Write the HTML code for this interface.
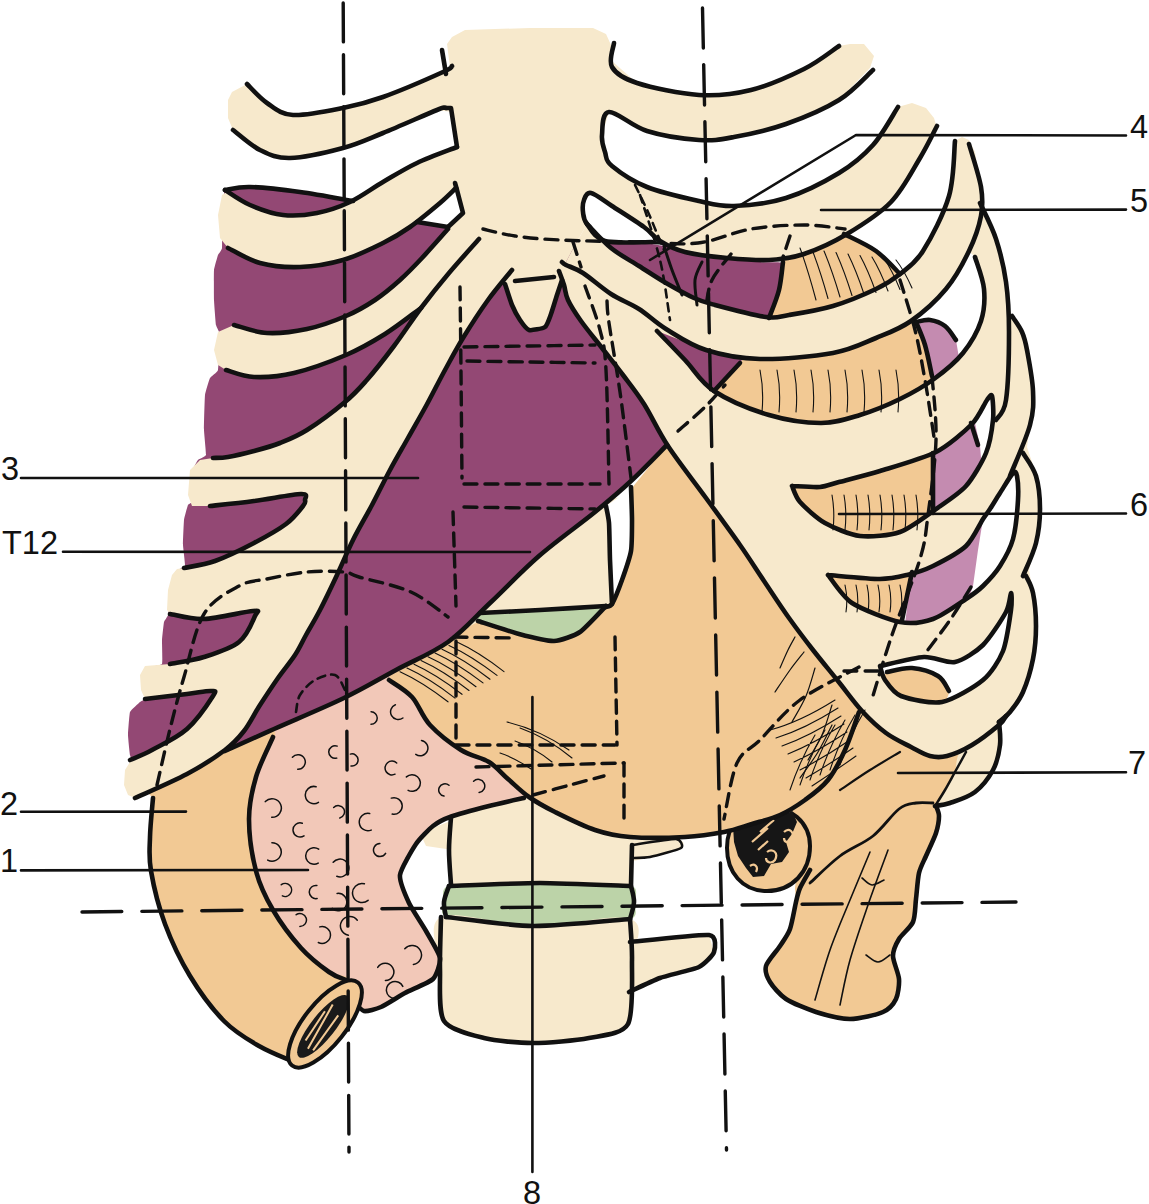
<!DOCTYPE html>
<html><head><meta charset="utf-8"><style>
html,body{margin:0;padding:0;background:#fff;width:1149px;height:1204px;overflow:hidden}
svg{display:block}
text{font-family:"Liberation Sans",sans-serif;fill:#111}
</style></head><body>
<svg width="1149" height="1204" viewBox="0 0 1149 1204">
<rect width="1149" height="1204" fill="#fff"/>
<path d="M450.0 817.0 L489.0 806.0 L524.0 798.0 L560.0 805.0 L640.0 812.0 L633.0 845.0 L631.0 885.0 L451.0 885.0 L449.0 850.0Z" fill="#f7e9cc" />
<path d="M628.0 842.0 C636.0 838.5 667.2 838.0 676.0 839.0 C684.8 840.0 685.3 845.0 681.0 848.0 C676.7 851.0 658.8 855.0 650.0 857.0 C641.2 859.0 631.7 862.5 628.0 860.0 C624.3 857.5 620.0 845.5 628.0 842.0Z" fill="#f7e9cc" />
<path d="M449.0 886.0 C458.6 884.1 521.8 883.0 540.0 883.0 C558.2 883.0 621.6 884.1 631.0 886.0 C640.4 887.9 634.1 898.7 634.0 902.0 C633.9 905.3 640.1 916.6 630.0 919.0 C619.9 921.4 551.3 926.2 533.0 926.0 C514.7 925.8 455.9 919.4 447.0 917.0 C438.1 914.6 443.8 905.1 444.0 902.0 C444.2 898.9 439.4 887.9 449.0 886.0Z" fill="#bcd3a8" />
<path d="M420.0 833.0 L453.0 820.0 L453.0 850.0 L426.0 846.0Z" fill="#f7e9cc" />
<path d="M441.0 917.0 C456.5 909.7 501.5 925.7 533.0 926.0 C564.5 926.3 613.2 913.3 630.0 919.0 C646.8 924.7 634.3 942.5 634.0 960.0 C633.7 977.5 635.5 1011.0 628.0 1024.0 C620.5 1037.0 604.8 1034.8 589.0 1038.0 C573.2 1041.2 550.5 1043.0 533.0 1043.0 C515.5 1043.0 498.8 1041.7 484.0 1038.0 C469.2 1034.3 451.3 1032.3 444.0 1021.0 C436.7 1009.7 440.5 987.3 440.0 970.0 C439.5 952.7 425.5 924.3 441.0 917.0Z" fill="#f7e9cc" />
<path d="M630.0 942.0 L709.0 935.0 L714.0 952.0 L699.0 967.0 L660.0 978.0 L629.0 992.0Z" fill="#f7e9cc" />
<path d="M262.0 738.0 L274.0 722.0 L344.0 690.0 L396.0 662.0 L410.0 670.0 L425.0 690.0 L445.0 712.0 L470.0 735.0 L500.0 758.0 L528.0 782.0 L530.0 794.0 L524.0 800.0 L489.0 806.0 L450.0 817.0 L433.0 826.0 L416.0 844.0 L400.0 875.0 L409.0 903.0 L426.0 931.0 L440.0 958.0 L433.0 979.0 L405.0 993.0 L381.0 1007.0 L364.0 1011.0 L350.0 995.0 L340.0 979.0 L320.0 968.0 L301.0 948.0 L273.0 910.0 L256.0 871.0 L249.0 819.0 L256.0 777.0Z" fill="#f2c8b8" />
<path d="M150.0 792.0 C153.4 789.0 179.1 775.2 187.0 770.0 C194.9 764.8 220.2 743.8 229.0 740.0 C237.8 736.2 272.3 728.3 275.0 732.0 C277.7 735.7 258.6 768.3 256.0 777.0 C253.4 785.7 249.0 809.6 249.0 819.0 C249.0 828.4 253.6 861.9 256.0 871.0 C258.4 880.1 268.5 902.3 273.0 910.0 C277.5 917.7 295.4 941.8 301.0 948.0 C306.6 954.2 324.1 968.8 329.0 972.0 C333.9 975.2 349.9 975.2 350.0 980.0 C350.1 984.8 335.0 1011.8 330.0 1020.0 C325.0 1028.2 307.1 1059.4 300.0 1062.0 C292.9 1064.6 266.6 1050.1 259.0 1046.0 C251.4 1041.9 230.9 1028.0 224.0 1021.0 C217.1 1014.0 195.9 985.7 190.0 976.0 C184.1 966.3 168.9 934.5 165.0 924.0 C161.1 913.5 152.5 879.7 151.0 871.0 C149.5 862.3 149.8 844.1 150.0 837.0 C150.2 829.9 153.0 804.5 153.0 800.0 C153.0 795.5 146.6 795.0 150.0 792.0Z" fill="#f2c994" />
<path d="M835.0 675.0 C840.6 672.6 866.4 708.2 876.0 716.0 C885.6 723.8 922.0 749.3 931.0 753.0 C940.0 756.7 963.1 751.1 966.0 753.0 C968.9 754.9 961.8 768.1 960.0 772.0 C958.2 775.9 950.4 788.6 948.0 792.0 C945.6 795.4 936.9 803.6 936.0 806.0 C935.1 808.4 939.0 813.3 939.0 816.0 C939.0 818.7 937.3 829.0 936.0 833.0 C934.7 837.0 927.7 852.0 926.0 856.0 C924.3 860.0 920.0 868.7 919.0 873.0 C918.0 877.3 916.6 894.1 916.0 899.0 C915.4 903.9 914.7 918.0 913.0 922.0 C911.3 926.0 901.0 935.6 899.0 939.0 C897.0 942.4 893.0 952.0 893.0 956.0 C893.0 960.0 898.7 974.7 899.0 979.0 C899.3 983.3 897.6 995.7 896.0 999.0 C894.4 1002.3 887.6 1010.0 883.0 1012.0 C878.4 1014.0 856.7 1019.0 850.0 1019.0 C843.3 1019.0 822.4 1014.0 816.0 1012.0 C809.6 1010.0 790.6 1002.0 786.0 999.0 C781.4 996.0 772.0 985.3 770.0 982.0 C768.0 978.7 765.0 969.6 766.0 966.0 C767.0 962.4 777.6 949.7 780.0 946.0 C782.4 942.3 788.4 933.4 790.0 929.0 C791.6 924.6 795.5 906.1 796.0 902.0 C796.5 897.9 794.8 891.2 795.0 888.0 C795.2 884.8 797.5 874.8 798.0 870.0 C798.5 865.2 800.3 845.4 800.0 840.0 C799.7 834.6 796.7 819.4 795.0 816.0 C793.3 812.6 786.5 807.0 783.0 806.0 C779.5 805.0 763.8 805.4 760.0 806.0 C756.2 806.6 742.0 814.6 745.0 812.0 C748.0 809.4 782.5 787.2 790.0 780.0 C797.5 772.8 815.5 750.5 820.0 740.0 C824.5 729.5 829.4 677.4 835.0 675.0Z" fill="#f2c994" />
<path d="M766 806 C790 806 810 822 810 846 C810 872 792 891 767 891 C742 891 727 872 727 848 C727 824 742 806 766 806Z" fill="#f2c994" stroke="#111" stroke-width="4"/>
<path d="M733 826 L745 814 L770 808 L792 811 L797 822 L792 834 L786 842 L789 852 L782 862 L771 864 L764 876 L753 877 L746 868 L738 856 L734 842Z" fill="#161616"/>
<path d="M784 832 c5 -5 11 0 8 7 c-2 5 -8 4 -8 -1 M767 852 c5 -4 12 0 8 8 c-3 4 -9 3 -9 -2 M750 866 c4 -3 9 0 6 6 M760 832 l14 -12 M752 842 l16 -14 M758 850 l10 -9" fill="none" stroke="#f2c994" stroke-width="2.2"/>
<path d="M470.0 625.0 L540.0 552.0 L600.0 500.0 L640.0 495.0 L640.0 650.0 L470.0 650.0Z" fill="#f7e9cc" />
<path d="M478.0 613.0 C484.0 611.8 527.2 610.8 540.0 610.0 C552.8 609.2 600.0 603.8 606.0 605.0 C612.0 606.2 602.6 619.1 600.0 622.0 C597.4 624.9 584.6 632.0 580.0 634.0 C575.4 636.0 560.1 641.9 554.0 642.0 C547.9 642.1 526.4 637.0 519.0 635.0 C511.6 633.0 484.1 624.2 480.0 622.0 C475.9 619.8 472.0 614.2 478.0 613.0Z" fill="#bcd3a8" />
<path d="M783.0 262.0 L800.0 245.0 L820.0 238.0 L844.0 234.0 L876.0 251.0 L900.0 274.0 L912.0 300.0 L917.0 324.0 L928.0 350.0 L932.0 376.0 L934.0 420.0 L935.0 452.0 L935.0 510.0 L915.0 565.0 L903.0 620.0 L890.0 660.0 L880.0 700.0 L860.0 716.0 L840.0 766.0 L810.0 800.0 L790.0 812.0 L750.0 824.0 L724.0 832.0 L685.0 837.0 L630.0 837.0 L595.0 830.0 L555.0 812.0 L529.0 797.0 L508.0 779.0 L489.0 762.0 L461.0 750.0 L430.0 725.0 L412.0 697.0 L389.0 680.0 L392.0 668.0 L420.0 652.0 L448.0 636.0 L470.0 626.0 L480.0 621.0 L519.0 634.0 L554.0 641.0 L580.0 632.0 L606.0 606.0 L612.0 604.0 L622.0 580.0 L631.0 551.0 L632.0 520.0 L631.0 489.0 L667.0 445.0 L690.0 420.0 L714.0 391.0 L740.0 363.0 L755.0 340.0 L769.0 318.0 L779.0 290.0Z" fill="#f2c994" />
<path d="M916.0 322.0 L930.0 320.0 L945.0 326.0 L956.0 340.0 L962.0 376.0 L970.0 400.0 L975.0 423.0 L980.0 446.0 L983.0 480.0 L983.0 519.0 L978.0 550.0 L973.0 586.0 L965.0 610.0 L950.0 622.0 L905.0 624.0 L908.0 600.0 L912.0 570.0 L935.0 510.0 L935.0 452.0 L932.0 376.0 L928.0 348.0Z" fill="#c48bb0" />
<path d="M225.0 190.0 C226.3 189.6 246.2 186.9 250.0 187.0 C253.8 187.1 294.9 191.3 300.0 192.0 C305.1 192.7 347.0 200.3 353.0 201.0 C359.0 201.7 414.9 205.1 420.0 205.0 C425.1 204.9 452.5 198.4 455.0 200.0 C457.5 201.6 466.8 233.8 470.0 236.0 C473.2 238.2 513.5 244.8 520.0 245.0 C526.5 245.2 595.4 240.2 600.0 240.0 C604.6 239.8 609.7 240.8 612.0 241.0 C614.3 241.2 641.6 242.4 646.0 243.0 C650.4 243.6 694.3 251.1 700.0 252.0 C705.7 252.9 755.9 261.4 760.0 262.0 C764.1 262.6 782.0 261.6 783.0 263.0 C784.0 264.4 779.7 287.2 779.0 290.0 C778.3 292.8 770.2 315.5 769.0 318.0 C767.8 320.5 756.5 337.8 755.0 340.0 C753.5 342.2 742.0 360.4 740.0 363.0 C738.0 365.6 716.5 388.1 714.0 391.0 C711.5 393.9 692.4 417.3 690.0 420.0 C687.6 422.7 670.0 441.9 667.0 445.0 C664.0 448.1 634.6 477.6 631.0 481.0 C627.4 484.4 599.6 508.2 595.0 512.0 C590.4 515.8 544.2 551.5 539.0 556.0 C533.8 560.5 494.6 598.7 490.0 603.0 C485.4 607.3 452.7 638.6 448.0 642.0 C443.3 645.4 401.2 667.2 396.0 670.0 C390.8 672.8 350.1 695.0 344.0 698.0 C337.9 701.0 279.9 726.4 274.0 729.0 C268.1 731.6 229.7 749.5 225.0 751.0 C220.3 752.5 184.5 759.4 180.0 760.0 C175.5 760.6 137.5 763.2 135.0 763.0 C132.5 762.8 130.3 756.4 130.0 755.0 C129.7 753.6 128.0 737.1 128.0 735.0 C128.0 732.9 129.4 713.6 130.0 712.0 C130.6 710.4 139.2 702.7 140.0 702.0 C140.8 701.3 145.6 699.7 146.0 698.0 C146.4 696.3 147.2 669.7 148.0 668.0 C148.8 666.3 161.3 665.4 162.0 664.0 C162.7 662.6 161.9 642.1 162.0 640.0 C162.1 637.9 163.7 623.2 164.0 622.0 C164.3 620.8 167.7 616.6 168.0 615.0 C168.3 613.4 169.6 592.2 170.0 590.0 C170.4 587.8 175.2 572.2 176.0 571.0 C176.8 569.8 184.7 567.3 185.0 566.0 C185.3 564.7 183.1 547.3 183.0 545.0 C182.9 542.7 183.8 522.0 184.0 520.0 C184.2 518.0 187.5 506.0 188.0 505.0 C188.5 504.0 193.8 501.8 194.0 500.0 C194.2 498.2 192.8 472.0 193.0 470.0 C193.2 468.0 197.3 460.8 198.0 460.0 C198.7 459.2 205.7 456.5 206.0 455.0 C206.3 453.5 204.1 433.0 204.0 430.0 C203.9 427.0 204.7 397.6 205.0 395.0 C205.3 392.4 209.3 379.2 210.0 378.0 C210.7 376.8 217.5 372.1 218.0 370.0 C218.5 367.9 220.1 337.2 220.0 335.0 C219.9 332.8 216.3 326.8 216.0 325.0 C215.7 323.2 214.1 302.8 214.0 300.0 C213.9 297.2 213.8 272.2 214.0 270.0 C214.2 267.8 217.6 256.1 218.0 255.0 C218.4 253.9 221.8 250.2 222.0 248.0 C222.2 245.8 221.9 212.7 222.0 210.0 C222.1 207.3 223.8 196.0 224.0 195.0 C224.2 194.0 223.7 190.4 225.0 190.0Z" fill="#934874" />
<path d="M606.0 506.0 L631.0 489.0 L632.0 520.0 L631.0 551.0 L622.0 580.0 L612.0 604.0 L609.0 560.0 L609.0 523.0Z" fill="#fff" />
<path d="M417.0 222.0 L455.0 190.0 L463.0 213.0 L448.0 227.0Z" fill="#fff" />
<path d="M583.0 205.0 C583.3 202.9 589.1 192.9 591.0 193.0 C592.9 193.1 608.5 203.7 612.0 206.0 C615.5 208.3 640.8 224.7 644.0 227.0 C647.2 229.3 659.5 240.0 660.0 241.0 C660.5 242.0 655.7 242.0 652.0 242.0 C648.3 242.0 609.3 242.2 605.0 241.0 C600.7 239.8 588.5 226.4 587.0 224.0 C585.5 221.6 582.7 207.1 583.0 205.0Z" fill="#fff" />
<path d="M447.0 44.0 L452.0 37.0 L465.0 30.0 L530.0 28.0 L593.0 28.0 L606.0 34.0 L611.0 45.0 L613.0 62.0 L637.0 83.0 L699.0 95.0 L751.0 90.0 L804.0 69.0 L839.0 46.0 L850.0 44.0 L864.0 44.0 L874.0 56.0 L870.0 68.0 L839.0 100.0 L786.0 124.0 L734.0 137.0 L699.0 140.0 L647.0 131.0 L609.0 112.0 L602.0 135.0 L605.0 152.0 L612.0 166.0 L647.0 187.0 L699.0 201.0 L734.0 206.0 L786.0 198.0 L839.0 173.0 L873.0 145.0 L898.0 107.0 L912.0 103.0 L926.0 108.0 L934.0 118.0 L937.0 128.0 L920.0 158.0 L891.0 202.0 L847.0 234.0 L804.0 254.0 L769.0 260.0 L727.0 258.0 L685.0 252.0 L660.0 241.0 L644.0 227.0 L612.0 206.0 L591.0 193.0 L584.0 200.0 L583.0 212.0 L587.0 224.0 L575.0 245.0 L566.0 262.0 L562.0 280.0 L557.0 295.0 L551.0 314.0 L545.0 327.0 L529.0 330.0 L520.0 320.0 L512.0 305.0 L505.0 284.0 L490.0 255.0 L480.0 240.0 L463.0 213.0 L455.0 190.0 L440.0 203.0 L410.0 227.0 L383.0 243.0 L343.0 260.0 L300.0 267.0 L260.0 263.0 L228.0 248.0 L220.0 238.0 L218.0 215.0 L222.0 195.0 L228.0 191.0 L250.0 205.0 L283.0 215.0 L317.0 213.0 L350.0 202.0 L383.0 182.0 L417.0 163.0 L457.0 147.0 L452.0 112.0 L437.0 110.0 L383.0 133.0 L343.0 148.0 L290.0 158.0 L260.0 150.0 L233.0 130.0 L228.0 118.0 L228.0 100.0 L232.0 92.0 L247.0 84.0 L267.0 103.0 L293.0 115.0 L343.0 108.0 L383.0 97.0 L443.0 72.0 L450.0 67.0Z" fill="#f7e9cc" />
<path d="M214.0 350.0 L218.0 332.0 L234.0 325.0 L267.0 333.0 L307.0 329.0 L346.0 316.0 L375.0 300.0 L400.0 280.0 L422.0 258.0 L448.0 229.0 L461.0 213.0 L466.0 212.0 L482.0 238.0 L490.0 250.0 L512.0 270.0 L488.0 300.0 L463.0 338.0 L445.0 370.0 L426.0 406.0 L408.0 438.0 L390.0 470.0 L372.0 505.0 L353.0 540.0 L337.0 575.0 L320.0 610.0 L306.0 635.0 L295.0 655.0 L278.0 678.0 L260.0 705.0 L244.0 731.0 L225.0 750.0 L187.0 774.0 L135.0 798.0 L128.0 795.0 L124.0 785.0 L125.0 770.0 L130.0 762.0 L152.0 750.0 L187.0 729.0 L213.0 696.0 L211.0 691.0 L187.0 694.0 L145.0 699.0 L141.0 690.0 L140.0 675.0 L145.0 666.0 L170.0 664.0 L204.0 657.0 L239.0 642.0 L255.0 616.0 L253.0 611.0 L204.0 619.0 L170.0 614.0 L167.0 610.0 L168.0 590.0 L172.0 575.0 L177.0 569.0 L184.0 568.0 L215.0 561.0 L254.0 543.0 L286.0 524.0 L303.0 506.0 L305.0 498.0 L301.0 494.0 L254.0 501.0 L210.0 506.0 L192.0 506.0 L188.0 495.0 L190.0 470.0 L200.0 460.0 L213.0 458.0 L228.0 457.0 L254.0 451.0 L280.0 443.0 L307.0 430.0 L345.0 402.0 L366.0 381.0 L394.0 346.0 L421.0 308.0 L425.0 305.0 L385.0 334.0 L346.0 355.0 L294.0 373.0 L254.0 377.0 L226.0 370.0 L218.0 365.0Z" fill="#f7e9cc" />
<path d="M566.0 262.0 L575.0 245.0 L587.0 224.0 L611.0 248.0 L639.0 266.0 L666.0 283.0 L694.0 298.0 L715.0 305.0 L766.0 317.0 L789.0 315.0 L833.0 306.0 L876.0 289.0 L900.0 274.0 L923.0 251.0 L949.0 196.0 L955.0 141.0 L962.0 137.0 L969.0 140.0 L975.0 152.0 L981.0 187.0 L981.0 205.0 L996.0 239.0 L1006.0 282.0 L1009.0 310.0 L1012.0 316.0 L1022.0 332.0 L1027.0 350.0 L1033.0 391.0 L1030.0 425.0 L1027.0 447.0 L1033.0 465.0 L1038.0 490.0 L1040.0 510.0 L1036.0 543.0 L1029.0 570.0 L1033.0 593.0 L1036.0 626.0 L1033.0 659.0 L1023.0 692.0 L1010.0 712.0 L999.0 722.0 L999.0 725.0 L972.0 745.0 L947.0 756.0 L930.0 756.0 L911.0 747.0 L886.0 733.0 L862.0 711.0 L838.0 681.0 L813.0 650.0 L789.0 618.0 L764.0 581.0 L740.0 545.0 L706.0 498.0 L668.0 446.0 L644.0 404.0 L623.0 375.0 L602.0 348.0 L581.0 321.0 L568.0 300.0 L564.0 285.0 L562.0 268.0Z M657.0 331.0 L706.0 350.0 L760.0 359.0 L833.0 353.0 L876.0 338.0 L911.0 321.0 L946.0 289.0 L969.0 251.0 L975.0 257.0 L984.0 289.0 L981.0 321.0 L963.0 353.0 L934.0 379.0 L900.0 399.0 L860.0 415.0 L821.0 423.0 L769.0 415.0 L714.0 391.0 L685.0 360.0Z M792.0 486.0 L820.0 487.0 L839.0 482.0 L880.0 471.0 L936.0 452.0 L972.0 424.0 L987.0 400.0 L992.0 396.0 L993.0 420.0 L986.0 453.0 L966.0 486.0 L936.0 509.0 L900.0 532.0 L860.0 536.0 L825.0 523.0 L800.0 502.0Z M828.0 575.0 L880.0 579.0 L907.0 575.0 L933.0 566.0 L966.0 546.0 L983.0 519.0 L990.0 509.0 L1000.0 493.0 L1013.0 473.0 L1017.0 476.0 L1018.0 500.0 L1013.0 539.0 L1000.0 566.0 L983.0 586.0 L966.0 599.0 L933.0 619.0 L900.0 622.0 L852.0 603.0Z M880.0 666.0 L924.0 657.0 L955.0 662.0 L983.0 645.0 L1006.0 612.0 L1011.0 593.0 L1011.0 610.0 L1003.0 651.0 L983.0 680.0 L942.0 702.0 L901.0 696.0 L885.0 680.0Z" fill="#f7e9cc" fill-rule="evenodd"/>
<path d="M880.0 666.0 L924.0 657.0 L955.0 662.0 L983.0 645.0 L1006.0 612.0 L1011.0 593.0 L1011.0 610.0 L1003.0 651.0 L983.0 680.0 L942.0 702.0 L901.0 696.0 L885.0 680.0Z" fill="#fff" />
<path d="M885.0 680.0 C883.6 677.6 884.3 673.2 887.0 672.0 C889.7 670.8 906.9 667.6 912.0 668.0 C917.1 668.4 934.3 673.7 938.0 676.0 C941.7 678.3 948.6 688.4 949.0 691.0 C949.4 693.6 946.8 701.5 942.0 702.0 C937.2 702.5 906.7 698.2 901.0 696.0 C895.3 693.8 886.4 682.4 885.0 680.0Z" fill="#f2c994" />
<path d="M960.0 752.0 C964.4 746.6 995.0 718.7 999.0 718.0 C1003.0 717.3 1000.6 739.8 1000.0 745.0 C999.4 750.2 995.5 765.3 993.0 770.0 C990.5 774.7 979.3 788.7 975.0 792.0 C970.7 795.3 954.0 801.6 950.0 803.0 C946.0 804.4 935.5 807.3 935.0 806.0 C934.5 804.7 943.0 793.4 945.0 790.0 C947.0 786.6 953.5 775.8 955.0 772.0 C956.5 768.2 955.6 757.4 960.0 752.0Z" fill="#f7e9cc" />
<path d="M247.0 84.0 C250.3 87.2 259.3 97.8 267.0 103.0 C274.7 108.2 280.3 114.2 293.0 115.0 C305.7 115.8 328.0 111.0 343.0 108.0 C358.0 105.0 366.3 103.0 383.0 97.0 C399.7 91.0 431.5 77.2 443.0 72.0 C454.5 66.8 450.5 67.0 452.0 66.0" fill="none" stroke="#111" stroke-width="4.6" stroke-linecap="round" stroke-linejoin="round" />
<path d="M442.0 50.0 C442.7 54.0 445.3 70.0 446.0 74.0" fill="none" stroke="#111" stroke-width="4.6" stroke-linecap="round" stroke-linejoin="round" />
<path d="M233.0 130.0 C237.5 133.3 250.5 145.3 260.0 150.0 C269.5 154.7 276.2 158.3 290.0 158.0 C303.8 157.7 327.5 152.2 343.0 148.0 C358.5 143.8 367.3 139.3 383.0 133.0 C398.7 126.7 426.5 114.2 437.0 110.0 C447.5 105.8 444.5 108.3 446.0 108.0" fill="none" stroke="#111" stroke-width="4.6" stroke-linecap="round" stroke-linejoin="round" />
<path d="M446.0 108.0 C446.0 108.0 451.0 108.0 451.0 108.0 C451.0 108.0 457.0 147.0 457.0 147.0" fill="none" stroke="#111" stroke-width="4.6" stroke-linecap="round" stroke-linejoin="round" />
<path d="M225.0 190.0 C229.2 189.5 237.5 186.7 250.0 187.0 C262.5 187.3 282.8 189.7 300.0 192.0 C317.2 194.3 344.2 199.5 353.0 201.0" fill="none" stroke="#111" stroke-width="4.6" stroke-linecap="round" stroke-linejoin="round" />
<path d="M225.0 190.0 C229.2 192.5 240.3 200.8 250.0 205.0 C259.7 209.2 271.8 213.7 283.0 215.0 C294.2 216.3 305.8 215.2 317.0 213.0 C328.2 210.8 339.0 207.2 350.0 202.0 C361.0 196.8 371.8 188.5 383.0 182.0 C394.2 175.5 404.7 168.8 417.0 163.0 C429.3 157.2 450.3 149.7 457.0 147.0" fill="none" stroke="#111" stroke-width="4.6" stroke-linecap="round" stroke-linejoin="round" />
<path d="M228.0 248.0 C233.3 250.5 248.0 259.8 260.0 263.0 C272.0 266.2 286.2 267.5 300.0 267.0 C313.8 266.5 329.2 264.0 343.0 260.0 C356.8 256.0 371.8 248.5 383.0 243.0 C394.2 237.5 400.5 233.7 410.0 227.0 C419.5 220.3 432.3 209.5 440.0 203.0 C447.7 196.5 453.3 190.5 456.0 188.0" fill="none" stroke="#111" stroke-width="4.6" stroke-linecap="round" stroke-linejoin="round" />
<path d="M455.0 183.0 C455.0 183.0 457.0 190.0 457.0 190.0 C457.0 190.0 463.0 213.0 463.0 213.0 C463.0 213.0 448.0 227.0 448.0 227.0 C448.0 227.0 417.0 222.0 417.0 222.0" fill="none" stroke="#111" stroke-width="4.6" stroke-linecap="round" stroke-linejoin="round" />
<path d="M234.0 325.0 C239.5 326.3 254.8 332.3 267.0 333.0 C279.2 333.7 293.8 331.8 307.0 329.0 C320.2 326.2 334.7 320.8 346.0 316.0 C357.3 311.2 366.0 306.0 375.0 300.0 C384.0 294.0 392.2 287.0 400.0 280.0 C407.8 273.0 414.0 266.5 422.0 258.0 C430.0 249.5 443.7 233.8 448.0 229.0" fill="none" stroke="#111" stroke-width="4.6" stroke-linecap="round" stroke-linejoin="round" />
<path d="M226.0 370.0 C230.7 371.2 242.7 376.5 254.0 377.0 C265.3 377.5 278.7 376.7 294.0 373.0 C309.3 369.3 330.8 361.5 346.0 355.0 C361.2 348.5 372.5 341.8 385.0 334.0 C397.5 326.2 415.0 312.3 421.0 308.0" fill="none" stroke="#111" stroke-width="4.6" stroke-linecap="round" stroke-linejoin="round" />
<path d="M479.0 239.0 C474.0 244.7 458.7 261.5 449.0 273.0 C439.3 284.5 430.2 295.8 421.0 308.0 C411.8 320.2 403.2 333.8 394.0 346.0 C384.8 358.2 374.2 371.7 366.0 381.0 C357.8 390.3 354.8 393.8 345.0 402.0 C335.2 410.2 317.8 423.2 307.0 430.0 C296.2 436.8 288.8 439.5 280.0 443.0 C271.2 446.5 262.7 448.7 254.0 451.0 C245.3 453.3 234.8 455.8 228.0 457.0 C221.2 458.2 215.5 457.8 213.0 458.0" fill="none" stroke="#111" stroke-width="4.6" stroke-linecap="round" stroke-linejoin="round" />
<path d="M210.0 506.0 C217.3 505.2 238.8 503.0 254.0 501.0 C269.2 499.0 292.5 494.2 301.0 494.0 C309.5 493.8 304.7 498.0 305.0 500.0 C305.3 502.0 306.2 502.0 303.0 506.0 C299.8 510.0 294.2 517.8 286.0 524.0 C277.8 530.2 265.8 536.8 254.0 543.0 C242.2 549.2 226.7 556.8 215.0 561.0 C203.3 565.2 189.2 566.8 184.0 568.0" fill="none" stroke="#111" stroke-width="4.6" stroke-linecap="round" stroke-linejoin="round" />
<path d="M170.0 614.0 C175.7 614.8 190.2 619.5 204.0 619.0 C217.8 618.5 244.5 611.5 253.0 611.0 C261.5 610.5 257.3 610.8 255.0 616.0 C252.7 621.2 247.5 635.2 239.0 642.0 C230.5 648.8 215.5 653.3 204.0 657.0 C192.5 660.7 175.7 662.8 170.0 664.0" fill="none" stroke="#111" stroke-width="4.6" stroke-linecap="round" stroke-linejoin="round" />
<path d="M145.0 699.0 C152.0 698.2 176.0 695.3 187.0 694.0 C198.0 692.7 206.7 690.7 211.0 691.0 C215.3 691.3 217.0 689.7 213.0 696.0 C209.0 702.3 197.2 720.0 187.0 729.0 C176.8 738.0 161.5 744.8 152.0 750.0 C142.5 755.2 133.7 758.3 130.0 760.0" fill="none" stroke="#111" stroke-width="4.6" stroke-linecap="round" stroke-linejoin="round" />
<path d="M512.0 270.0 C508.0 275.0 496.2 288.7 488.0 300.0 C479.8 311.3 470.2 326.3 463.0 338.0 C455.8 349.7 451.2 358.7 445.0 370.0 C438.8 381.3 432.2 394.7 426.0 406.0 C419.8 417.3 414.0 427.3 408.0 438.0 C402.0 448.7 396.0 458.8 390.0 470.0 C384.0 481.2 378.2 493.3 372.0 505.0 C365.8 516.7 358.8 528.3 353.0 540.0 C347.2 551.7 342.5 563.3 337.0 575.0 C331.5 586.7 325.2 600.0 320.0 610.0 C314.8 620.0 310.2 627.5 306.0 635.0 C301.8 642.5 299.7 647.8 295.0 655.0 C290.3 662.2 283.8 669.7 278.0 678.0 C272.2 686.3 265.7 696.2 260.0 705.0 C254.3 713.8 249.8 723.5 244.0 731.0 C238.2 738.5 234.5 742.8 225.0 750.0 C215.5 757.2 202.0 766.0 187.0 774.0 C172.0 782.0 143.7 794.0 135.0 798.0" fill="none" stroke="#111" stroke-width="4.6" stroke-linecap="round" stroke-linejoin="round" />
<path d="M225.0 751.0 C233.2 747.3 254.2 737.8 274.0 729.0 C293.8 720.2 323.7 707.8 344.0 698.0 C364.3 688.2 378.7 679.3 396.0 670.0 C413.3 660.7 432.3 653.2 448.0 642.0 C463.7 630.8 474.8 617.3 490.0 603.0 C505.2 588.7 521.5 571.2 539.0 556.0 C556.5 540.8 579.7 524.5 595.0 512.0 C610.3 499.5 619.0 492.2 631.0 481.0 C643.0 469.8 661.0 451.0 667.0 445.0" fill="none" stroke="#111" stroke-width="4.6" stroke-linecap="round" stroke-linejoin="round" />
<path d="M505.0 284.0 C505.7 286.1 510.5 301.4 512.0 305.0 C513.5 308.6 518.3 317.5 520.0 320.0 C521.7 322.5 526.5 329.3 529.0 330.0 C531.5 330.7 542.8 328.6 545.0 327.0 C547.2 325.4 549.8 317.2 551.0 314.0 C552.2 310.8 555.9 298.4 557.0 295.0 C558.1 291.6 561.5 281.5 562.0 280.0" fill="none" stroke="#111" stroke-width="4.6" stroke-linecap="round" stroke-linejoin="round" />
<path d="M515.0 281.0 C521.5 280.3 547.5 277.7 554.0 277.0" fill="none" stroke="#111" stroke-width="4.6" stroke-linecap="round" stroke-linejoin="round" />
<path d="M559.0 271.0 C559.8 273.3 562.5 280.2 564.0 285.0 C565.5 289.8 565.2 294.0 568.0 300.0 C570.8 306.0 575.3 313.0 581.0 321.0 C586.7 329.0 595.0 339.0 602.0 348.0 C609.0 357.0 616.0 365.7 623.0 375.0 C630.0 384.3 636.5 392.2 644.0 404.0 C651.5 415.8 657.7 430.3 668.0 446.0 C678.3 461.7 694.0 481.5 706.0 498.0 C718.0 514.5 730.3 531.2 740.0 545.0 C749.7 558.8 755.8 568.8 764.0 581.0 C772.2 593.2 780.8 606.5 789.0 618.0 C797.2 629.5 804.8 639.5 813.0 650.0 C821.2 660.5 829.8 670.8 838.0 681.0 C846.2 691.2 854.0 702.3 862.0 711.0 C870.0 719.7 877.8 727.0 886.0 733.0 C894.2 739.0 903.7 743.2 911.0 747.0 C918.3 750.8 924.0 754.5 930.0 756.0 C936.0 757.5 940.0 757.8 947.0 756.0 C954.0 754.2 963.3 750.2 972.0 745.0 C980.7 739.8 993.3 729.8 999.0 725.0 C1004.7 720.2 1004.8 717.5 1006.0 716.0" fill="none" stroke="#111" stroke-width="4.6" stroke-linecap="round" stroke-linejoin="round" />
<path d="M614.0 43.0 C613.7 47.0 608.2 60.3 612.0 67.0 C615.8 73.7 622.5 78.3 637.0 83.0 C651.5 87.7 680.0 93.8 699.0 95.0 C718.0 96.2 733.5 94.3 751.0 90.0 C768.5 85.7 789.3 76.3 804.0 69.0 C818.7 61.7 833.2 49.8 839.0 46.0" fill="none" stroke="#111" stroke-width="4.6" stroke-linecap="round" stroke-linejoin="round" />
<path d="M873.0 70.0 C867.3 75.0 853.5 91.0 839.0 100.0 C824.5 109.0 803.5 117.8 786.0 124.0 C768.5 130.2 748.5 134.3 734.0 137.0 C719.5 139.7 713.5 141.0 699.0 140.0 C684.5 139.0 662.0 135.7 647.0 131.0 C632.0 126.3 616.5 111.3 609.0 112.0 C601.5 112.7 602.7 128.3 602.0 135.0 C601.3 141.7 603.3 146.8 605.0 152.0 C606.7 157.2 605.0 160.2 612.0 166.0 C619.0 171.8 632.5 181.2 647.0 187.0 C661.5 192.8 684.5 197.8 699.0 201.0 C713.5 204.2 719.5 206.5 734.0 206.0 C748.5 205.5 768.5 203.5 786.0 198.0 C803.5 192.5 824.5 181.8 839.0 173.0 C853.5 164.2 863.2 156.0 873.0 145.0 C882.8 134.0 893.8 113.3 898.0 107.0" fill="none" stroke="#111" stroke-width="4.6" stroke-linecap="round" stroke-linejoin="round" />
<path d="M937.0 126.0 C934.2 131.3 927.7 145.3 920.0 158.0 C912.3 170.7 903.2 189.3 891.0 202.0 C878.8 214.7 861.5 225.3 847.0 234.0 C832.5 242.7 817.0 249.7 804.0 254.0 C791.0 258.3 781.8 259.3 769.0 260.0 C756.2 260.7 741.0 259.3 727.0 258.0 C713.0 256.7 696.2 254.8 685.0 252.0 C673.8 249.2 666.8 245.2 660.0 241.0 C653.2 236.8 652.0 232.8 644.0 227.0 C636.0 221.2 620.8 211.7 612.0 206.0 C603.2 200.3 595.7 194.0 591.0 193.0 C586.3 192.0 585.3 196.8 584.0 200.0 C582.7 203.2 582.5 208.0 583.0 212.0 C583.5 216.0 583.3 219.2 587.0 224.0 C590.7 228.8 594.2 238.0 605.0 241.0 C615.8 244.0 644.2 241.8 652.0 242.0" fill="none" stroke="#111" stroke-width="4.6" stroke-linecap="round" stroke-linejoin="round" />
<path d="M587.0 224.0 C591.0 228.0 602.3 241.0 611.0 248.0 C619.7 255.0 629.8 260.2 639.0 266.0 C648.2 271.8 656.8 277.7 666.0 283.0 C675.2 288.3 685.8 294.3 694.0 298.0 C702.2 301.7 703.0 301.8 715.0 305.0 C727.0 308.2 753.7 315.3 766.0 317.0 C778.3 318.7 777.8 316.8 789.0 315.0 C800.2 313.2 818.5 310.3 833.0 306.0 C847.5 301.7 864.8 294.3 876.0 289.0 C887.2 283.7 892.2 280.3 900.0 274.0 C907.8 267.7 914.8 264.0 923.0 251.0 C931.2 238.0 943.7 214.3 949.0 196.0 C954.3 177.7 954.0 150.2 955.0 141.0" fill="none" stroke="#111" stroke-width="4.6" stroke-linecap="round" stroke-linejoin="round" />
<path d="M562.0 262.0 C562.7 262.5 562.5 263.2 566.0 265.0 C569.5 266.8 575.5 268.2 583.0 273.0 C590.5 277.8 601.7 288.0 611.0 294.0 C620.3 300.0 629.8 303.2 639.0 309.0 C648.2 314.8 654.8 322.2 666.0 329.0 C677.2 335.8 690.3 345.0 706.0 350.0 C721.7 355.0 738.8 358.5 760.0 359.0 C781.2 359.5 813.7 356.5 833.0 353.0 C852.3 349.5 863.0 343.3 876.0 338.0 C889.0 332.7 899.3 329.2 911.0 321.0 C922.7 312.8 936.3 300.7 946.0 289.0 C955.7 277.3 963.2 263.2 969.0 251.0 C974.8 238.8 979.0 226.7 981.0 216.0 C983.0 205.3 983.0 199.0 981.0 187.0 C979.0 175.0 971.0 151.2 969.0 144.0" fill="none" stroke="#111" stroke-width="4.6" stroke-linecap="round" stroke-linejoin="round" />
<path d="M783.0 262.0 C782.3 266.7 781.3 280.7 779.0 290.0 C776.7 299.3 770.7 313.3 769.0 318.0" fill="none" stroke="#111" stroke-width="4.6" stroke-linecap="round" stroke-linejoin="round" />
<path d="M844.0 234.0 C849.3 236.8 866.7 244.3 876.0 251.0 C885.3 257.7 896.0 270.2 900.0 274.0" fill="none" stroke="#111" stroke-width="4.6" stroke-linecap="round" stroke-linejoin="round" />
<path d="M657.0 331.0 C661.7 335.8 675.5 350.0 685.0 360.0 C694.5 370.0 700.0 381.8 714.0 391.0 C728.0 400.2 751.2 409.7 769.0 415.0 C786.8 420.3 805.8 423.0 821.0 423.0 C836.2 423.0 846.8 419.0 860.0 415.0 C873.2 411.0 887.7 405.0 900.0 399.0 C912.3 393.0 923.5 386.7 934.0 379.0 C944.5 371.3 955.2 362.7 963.0 353.0 C970.8 343.3 977.5 331.7 981.0 321.0 C984.5 310.3 985.0 299.7 984.0 289.0 C983.0 278.3 976.5 262.3 975.0 257.0" fill="none" stroke="#111" stroke-width="4.6" stroke-linecap="round" stroke-linejoin="round" />
<path d="M740.0 363.0 C735.7 367.7 718.3 386.3 714.0 391.0" fill="none" stroke="#111" stroke-width="4.6" stroke-linecap="round" stroke-linejoin="round" />
<path d="M980.0 203.0 C982.7 209.0 991.7 225.8 996.0 239.0 C1000.3 252.2 1003.8 266.5 1006.0 282.0 C1008.2 297.5 1009.0 312.3 1009.0 332.0 C1009.0 351.7 1008.2 385.3 1006.0 400.0 C1003.8 414.7 997.7 416.7 996.0 420.0" fill="none" stroke="#111" stroke-width="4.6" stroke-linecap="round" stroke-linejoin="round" />
<path d="M1012.0 316.0 C1013.7 318.7 1019.5 326.3 1022.0 332.0 C1024.5 337.7 1025.2 340.2 1027.0 350.0 C1028.8 359.8 1032.5 378.5 1033.0 391.0 C1033.5 403.5 1033.8 410.8 1030.0 425.0 C1026.2 439.2 1013.3 467.5 1010.0 476.0" fill="none" stroke="#111" stroke-width="4.6" stroke-linecap="round" stroke-linejoin="round" />
<path d="M1023.0 453.0 C1025.2 456.8 1033.2 466.7 1036.0 476.0 C1038.8 485.3 1040.0 497.8 1040.0 509.0 C1040.0 520.2 1038.8 531.8 1036.0 543.0 C1033.2 554.2 1025.2 570.5 1023.0 576.0" fill="none" stroke="#111" stroke-width="4.6" stroke-linecap="round" stroke-linejoin="round" />
<path d="M1026.0 576.0 C1027.2 578.8 1031.3 584.7 1033.0 593.0 C1034.7 601.3 1036.0 615.0 1036.0 626.0 C1036.0 637.0 1035.2 648.0 1033.0 659.0 C1030.8 670.0 1026.8 683.2 1023.0 692.0 C1019.2 700.8 1014.0 707.0 1010.0 712.0 C1006.0 717.0 1000.8 720.3 999.0 722.0" fill="none" stroke="#111" stroke-width="4.6" stroke-linecap="round" stroke-linejoin="round" />
<path d="M916.0 322.0 C918.3 321.7 925.2 319.3 930.0 320.0 C934.8 320.7 940.7 322.7 945.0 326.0 C949.3 329.3 954.2 337.7 956.0 340.0" fill="none" stroke="#111" stroke-width="4.6" stroke-linecap="round" stroke-linejoin="round" />
<path d="M916.0 322.0 C917.5 325.8 922.3 336.0 925.0 345.0 C927.7 354.0 930.8 370.8 932.0 376.0" fill="none" stroke="#111" stroke-width="4.6" stroke-linecap="round" stroke-linejoin="round" />
<path d="M792.0 486.0 C795.7 486.1 813.7 487.5 820.0 487.0 C826.3 486.5 831.0 484.1 839.0 482.0 C847.0 479.9 867.1 475.0 880.0 471.0 C892.9 467.0 923.7 458.3 936.0 452.0 C948.3 445.7 965.2 430.9 972.0 424.0 C978.8 417.1 984.3 403.7 987.0 400.0 C989.7 396.3 991.2 393.3 992.0 396.0 C992.8 398.7 993.8 412.4 993.0 420.0 C992.2 427.6 989.6 444.2 986.0 453.0 C982.4 461.8 972.7 478.5 966.0 486.0 C959.3 493.5 944.8 502.9 936.0 509.0 C927.2 515.1 910.1 528.4 900.0 532.0 C889.9 535.6 870.0 537.2 860.0 536.0 C850.0 534.8 833.0 527.5 825.0 523.0 C817.0 518.5 804.4 506.9 800.0 502.0 C795.6 497.1 793.1 488.1 792.0 486.0" fill="none" stroke="#111" stroke-width="4.6" stroke-linecap="round" stroke-linejoin="round" />
<path d="M828.0 575.0 C834.9 575.5 869.5 579.0 880.0 579.0 C890.5 579.0 899.9 576.7 907.0 575.0 C914.1 573.3 925.1 569.9 933.0 566.0 C940.9 562.1 959.3 552.3 966.0 546.0 C972.7 539.7 979.8 523.9 983.0 519.0 C986.2 514.1 987.7 512.5 990.0 509.0 C992.3 505.5 996.9 497.8 1000.0 493.0 C1003.1 488.2 1010.7 475.3 1013.0 473.0 C1015.3 470.7 1016.3 472.4 1017.0 476.0 C1017.7 479.6 1018.5 491.6 1018.0 500.0 C1017.5 508.4 1015.4 530.2 1013.0 539.0 C1010.6 547.8 1004.0 559.7 1000.0 566.0 C996.0 572.3 987.5 581.6 983.0 586.0 C978.5 590.4 972.7 594.6 966.0 599.0 C959.3 603.4 941.8 615.9 933.0 619.0 C924.2 622.1 910.8 624.1 900.0 622.0 C889.2 619.9 861.6 609.3 852.0 603.0 C842.4 596.7 831.2 578.7 828.0 575.0" fill="none" stroke="#111" stroke-width="4.6" stroke-linecap="round" stroke-linejoin="round" />
<path d="M880.0 666.0 C885.9 664.8 914.0 657.5 924.0 657.0 C934.0 656.5 947.1 663.6 955.0 662.0 C962.9 660.4 976.2 651.7 983.0 645.0 C989.8 638.3 1002.3 618.9 1006.0 612.0 C1009.7 605.1 1010.3 593.3 1011.0 593.0 C1011.7 592.7 1012.1 602.3 1011.0 610.0 C1009.9 617.7 1006.7 641.7 1003.0 651.0 C999.3 660.3 991.1 673.2 983.0 680.0 C974.9 686.8 952.9 699.9 942.0 702.0 C931.1 704.1 908.6 698.9 901.0 696.0 C893.4 693.1 887.8 684.0 885.0 680.0 C882.2 676.0 880.7 667.9 880.0 666.0" fill="none" stroke="#111" stroke-width="4.6" stroke-linecap="round" stroke-linejoin="round" />
<path d="M933.0 453.0 C933.0 463.0 933.0 503.0 933.0 513.0" fill="none" stroke="#111" stroke-width="4.6" stroke-linecap="round" stroke-linejoin="round" />
<path d="M971.0 423.0 C972.2 426.7 976.8 441.3 978.0 445.0" fill="none" stroke="#111" stroke-width="4.6" stroke-linecap="round" stroke-linejoin="round" />
<path d="M912.0 572.0 C910.3 580.0 903.7 612.0 902.0 620.0" fill="none" stroke="#111" stroke-width="4.6" stroke-linecap="round" stroke-linejoin="round" />
<path d="M887.0 672.0 C891.2 671.3 903.5 667.3 912.0 668.0 C920.5 668.7 931.8 672.2 938.0 676.0 C944.2 679.8 947.2 688.5 949.0 691.0" fill="none" stroke="#111" stroke-width="4.6" stroke-linecap="round" stroke-linejoin="round" />
<path d="M999.0 722.0 C999.2 725.8 1001.0 737.0 1000.0 745.0 C999.0 753.0 997.2 762.2 993.0 770.0 C988.8 777.8 982.2 786.5 975.0 792.0 C967.8 797.5 956.7 800.7 950.0 803.0 C943.3 805.3 937.5 805.5 935.0 806.0" fill="none" stroke="#111" stroke-width="4.6" stroke-linecap="round" stroke-linejoin="round" />
<path d="M966.0 752.0 C964.2 755.3 958.5 765.7 955.0 772.0 C951.5 778.3 948.3 784.3 945.0 790.0 C941.7 795.7 936.7 803.3 935.0 806.0" fill="none" stroke="#111" stroke-width="2.5" stroke-linecap="round" stroke-linejoin="round" />
<path d="M389.0 680.0 C392.8 682.8 405.2 689.5 412.0 697.0 C418.8 704.5 421.8 716.2 430.0 725.0 C438.2 733.8 451.2 743.8 461.0 750.0 C470.8 756.2 481.2 757.2 489.0 762.0 C496.8 766.8 501.3 773.2 508.0 779.0 C514.7 784.8 521.2 791.5 529.0 797.0 C536.8 802.5 544.0 806.5 555.0 812.0 C566.0 817.5 582.5 825.8 595.0 830.0 C607.5 834.2 615.0 835.8 630.0 837.0 C645.0 838.2 669.3 837.8 685.0 837.0 C700.7 836.2 712.8 834.2 724.0 832.0 C735.2 829.8 742.7 826.8 752.0 824.0 C761.3 821.2 771.2 819.0 780.0 815.0 C788.8 811.0 797.0 805.8 805.0 800.0 C813.0 794.2 821.3 788.3 828.0 780.0 C834.7 771.7 839.8 761.3 845.0 750.0 C850.2 738.7 856.7 718.3 859.0 712.0" fill="none" stroke="#111" stroke-width="4.6" stroke-linecap="round" stroke-linejoin="round" />
<path d="M606.0 506.0 C606.3 507.7 608.6 517.6 609.0 523.0 C609.4 528.4 609.7 551.9 610.0 560.0 C610.3 568.1 611.8 599.6 612.0 604.0" fill="none" stroke="#111" stroke-width="4.6" stroke-linecap="round" stroke-linejoin="round" />
<path d="M631.0 487.0 C631.1 490.3 632.0 513.6 632.0 520.0 C632.0 526.4 632.0 545.0 631.0 551.0 C630.0 557.0 623.9 574.7 622.0 580.0 C620.1 585.3 613.6 601.3 612.0 604.0 C610.4 606.7 606.6 606.7 606.0 607.0" fill="none" stroke="#111" stroke-width="4.6" stroke-linecap="round" stroke-linejoin="round" />
<path d="M480.0 613.0 C486.0 612.7 527.4 610.7 540.0 610.0 C552.6 609.3 599.4 606.4 606.0 606.0" fill="none" stroke="#111" stroke-width="4.6" stroke-linecap="round" stroke-linejoin="round" />
<path d="M478.0 621.0 C482.1 622.3 511.4 632.0 519.0 634.0 C526.6 636.0 547.9 641.2 554.0 641.0 C560.1 640.8 574.8 635.5 580.0 632.0 C585.2 628.5 603.4 608.6 606.0 606.0" fill="none" stroke="#111" stroke-width="4.6" stroke-linecap="round" stroke-linejoin="round" />
<path d="M524.0 798.0 C520.5 798.8 496.4 804.1 489.0 806.0 C481.6 807.9 455.6 815.0 450.0 817.0 C444.4 819.0 436.4 823.3 433.0 826.0 C429.6 828.7 419.3 839.1 416.0 844.0 C412.7 848.9 400.7 869.1 400.0 875.0 C399.3 880.9 406.4 897.4 409.0 903.0 C411.6 908.6 422.9 925.5 426.0 931.0 C429.1 936.5 439.3 953.2 440.0 958.0 C440.7 962.8 436.5 975.5 433.0 979.0 C429.5 982.5 410.2 990.2 405.0 993.0 C399.8 995.8 385.1 1005.2 381.0 1007.0 C376.9 1008.8 366.9 1011.7 364.0 1011.0 C361.1 1010.3 353.2 1001.1 352.0 1000.0" fill="none" stroke="#111" stroke-width="4.6" stroke-linecap="round" stroke-linejoin="round" />
<path d="M153.0 798.0 C152.5 804.5 150.3 824.8 150.0 837.0 C149.7 849.2 148.5 856.5 151.0 871.0 C153.5 885.5 158.5 906.5 165.0 924.0 C171.5 941.5 180.2 959.8 190.0 976.0 C199.8 992.2 212.5 1009.3 224.0 1021.0 C235.5 1032.7 247.3 1039.2 259.0 1046.0 C270.7 1052.8 288.2 1059.3 294.0 1062.0" fill="none" stroke="#111" stroke-width="4.6" stroke-linecap="round" stroke-linejoin="round" />
<path d="M273.0 737.0 C270.2 743.7 260.0 763.3 256.0 777.0 C252.0 790.7 249.0 803.3 249.0 819.0 C249.0 834.7 252.0 855.8 256.0 871.0 C260.0 886.2 265.5 897.2 273.0 910.0 C280.5 922.8 291.7 937.7 301.0 948.0 C310.3 958.3 321.5 966.7 329.0 972.0 C336.5 977.3 343.2 978.7 346.0 980.0" fill="none" stroke="#111" stroke-width="4.6" stroke-linecap="round" stroke-linejoin="round" />
<path d="M451.0 817.0 C450.7 822.5 449.0 838.7 449.0 850.0 C449.0 861.3 450.7 879.2 451.0 885.0" fill="none" stroke="#111" stroke-width="4.6" stroke-linecap="round" stroke-linejoin="round" />
<path d="M632.0 845.0 C631.8 851.7 631.2 878.3 631.0 885.0" fill="none" stroke="#111" stroke-width="4.6" stroke-linecap="round" stroke-linejoin="round" />
<path d="M449.0 886.0 C458.1 885.7 521.8 883.0 540.0 883.0 C558.2 883.0 621.9 885.7 631.0 886.0" fill="none" stroke="#111" stroke-width="4.6" stroke-linecap="round" stroke-linejoin="round" />
<path d="M446.0 917.0 C457.6 918.2 508.5 925.7 533.0 926.0 C557.5 926.3 617.1 919.9 630.0 919.0" fill="none" stroke="#111" stroke-width="4.6" stroke-linecap="round" stroke-linejoin="round" />
<path d="M449.0 886.0 C448.2 888.7 444.5 896.8 444.0 902.0 C443.5 907.2 445.7 914.5 446.0 917.0" fill="none" stroke="#111" stroke-width="4.6" stroke-linecap="round" stroke-linejoin="round" />
<path d="M631.0 886.0 C631.5 888.7 634.2 896.5 634.0 902.0 C633.8 907.5 630.7 916.2 630.0 919.0" fill="none" stroke="#111" stroke-width="4.6" stroke-linecap="round" stroke-linejoin="round" />
<path d="M441.0 917.0 C440.9 924.1 439.6 956.1 440.0 970.0 C440.4 983.9 438.1 1011.9 444.0 1021.0 C449.9 1030.1 472.1 1035.1 484.0 1038.0 C495.9 1040.9 519.0 1043.0 533.0 1043.0 C547.0 1043.0 576.3 1040.5 589.0 1038.0 C601.7 1035.5 622.3 1034.4 628.0 1024.0 C633.7 1013.6 631.7 974.0 632.0 960.0 C632.3 946.0 630.3 924.5 630.0 919.0" fill="none" stroke="#111" stroke-width="4.6" stroke-linecap="round" stroke-linejoin="round" />
<path d="M630.0 942.0 C637.9 941.3 700.6 934.0 709.0 935.0 C717.4 936.0 715.0 948.8 714.0 952.0 C713.0 955.2 704.4 964.4 699.0 967.0 C693.6 969.6 667.0 975.5 660.0 978.0 C653.0 980.5 632.1 990.6 629.0 992.0" fill="none" stroke="#111" stroke-width="4.6" stroke-linecap="round" stroke-linejoin="round" />
<path d="M632.0 845.0 C636.4 844.4 671.1 838.7 676.0 839.0 C680.9 839.3 683.6 846.2 681.0 848.0 C678.4 849.8 654.9 856.0 650.0 857.0 C645.1 858.0 633.8 857.9 632.0 858.0" fill="none" stroke="#111" stroke-width="2.5" stroke-linecap="round" stroke-linejoin="round" />
<path d="M936.0 806.0 C936.4 807.3 939.0 812.4 939.0 816.0 C939.0 819.6 937.7 827.7 936.0 833.0 C934.3 838.3 928.3 850.7 926.0 856.0 C923.7 861.3 920.3 867.3 919.0 873.0 C917.7 878.7 916.8 892.5 916.0 899.0 C915.2 905.5 915.3 916.7 913.0 922.0 C910.7 927.3 901.7 934.5 899.0 939.0 C896.3 943.5 893.0 950.7 893.0 956.0 C893.0 961.3 898.6 973.3 899.0 979.0 C899.4 984.7 898.1 994.6 896.0 999.0 C893.9 1003.4 889.1 1009.3 883.0 1012.0 C876.9 1014.7 858.9 1019.0 850.0 1019.0 C841.1 1019.0 824.5 1014.7 816.0 1012.0 C807.5 1009.3 792.1 1003.0 786.0 999.0 C779.9 995.0 772.7 986.4 770.0 982.0 C767.3 977.6 764.7 970.8 766.0 966.0 C767.3 961.2 776.8 950.9 780.0 946.0 C783.2 941.1 787.9 934.9 790.0 929.0 C792.1 923.1 794.7 907.5 796.0 902.0 C797.3 896.5 798.1 892.3 800.0 888.0 C801.9 883.7 808.7 872.4 810.0 870.0" fill="none" stroke="#111" stroke-width="4.6" stroke-linecap="round" stroke-linejoin="round" />
<path d="M810.0 883.0 C815.0 878.5 829.5 863.8 840.0 856.0 C850.5 848.2 863.2 843.8 873.0 836.0 C882.8 828.2 891.8 814.5 899.0 809.0 C906.2 803.5 910.3 804.0 916.0 803.0 C921.7 802.0 930.2 803.0 933.0 803.0" fill="none" stroke="#111" stroke-width="2.8" stroke-linecap="round" stroke-linejoin="round" />
<path d="M840.0 790.0 C845.0 786.7 860.0 776.3 870.0 770.0 C880.0 763.7 895.0 755.0 900.0 752.0" fill="none" stroke="#111" stroke-width="2.2" stroke-linecap="round" stroke-linejoin="round" />
<g transform="translate(325,1024) rotate(-51.6)"><ellipse rx="53" ry="21" fill="#f2c994" stroke="#111" stroke-width="4"/><ellipse cx="-3" rx="39" ry="12" fill="#1a1a1a"/><path d="M-30 2 L20 -6 M-25 -5 L10 -8 M-28 7 L15 5" stroke="#f2c994" stroke-width="2"/></g>
<path d="M343.2 3.0 C344.2 194.5 348.0 960.5 349.0 1152.0" fill="none" stroke="#111" stroke-width="3.4" stroke-linecap="round" stroke-linejoin="round" stroke-dasharray="39 13" stroke-linecap="butt"/>
<path d="M702.5 8.0 C706.5 198.3 722.5 959.7 726.5 1150.0" fill="none" stroke="#111" stroke-width="3.4" stroke-linecap="round" stroke-linejoin="round" stroke-dasharray="40 17" stroke-linecap="butt"/>
<path d="M82.0 912.0 C237.7 910.3 860.3 903.7 1016.0 902.0" fill="none" stroke="#111" stroke-width="3.4" stroke-linecap="round" stroke-linejoin="round" stroke-dasharray="40 20" stroke-linecap="butt"/>
<path d="M483.0 229.0 C488.3 230.2 502.2 234.2 515.0 236.0 C527.8 237.8 539.2 239.0 560.0 240.0 C580.8 241.0 617.0 241.5 640.0 242.0 C663.0 242.5 679.5 245.2 698.0 243.0 C716.5 240.8 733.3 232.0 751.0 229.0 C768.7 226.0 788.3 225.0 804.0 225.0 C819.7 225.0 838.2 228.3 845.0 229.0" fill="none" stroke="#111" stroke-width="3.4" stroke-linecap="round" stroke-linejoin="round" stroke-dasharray="13 8" stroke-linecap="butt"/>
<path d="M573.0 242.0 C574.3 246.2 579.7 262.8 581.0 267.0" fill="none" stroke="#111" stroke-width="3.4" stroke-linecap="round" stroke-linejoin="round" stroke-dasharray="13 8" stroke-linecap="butt"/>
<path d="M790.0 236.0 C788.8 239.5 784.2 253.5 783.0 257.0" fill="none" stroke="#111" stroke-width="3.4" stroke-linecap="round" stroke-linejoin="round" stroke-dasharray="13 8" stroke-linecap="butt"/>
<path d="M731.0 254.0 C727.8 258.3 716.2 271.3 712.0 280.0 C707.8 288.7 707.0 301.7 706.0 306.0" fill="none" stroke="#111" stroke-width="3.4" stroke-linecap="round" stroke-linejoin="round" stroke-dasharray="13 8" stroke-linecap="butt"/>
<path d="M635.0 185.0 C637.2 189.5 644.5 204.3 648.0 212.0 C651.5 219.7 653.3 224.7 656.0 231.0 C658.7 237.3 662.7 246.8 664.0 250.0" fill="none" stroke="#111" stroke-width="2.6" stroke-linecap="round" stroke-linejoin="round" stroke-dasharray="8 6" stroke-linecap="butt"/>
<path d="M464.0 347.0 C475.0 346.8 508.2 346.3 530.0 346.0 C551.8 345.7 584.2 345.2 595.0 345.0" fill="none" stroke="#111" stroke-width="3.4" stroke-linecap="round" stroke-linejoin="round" stroke-dasharray="13 8" stroke-linecap="butt"/>
<path d="M467.0 361.0 C477.5 361.2 508.7 361.7 530.0 362.0 C551.3 362.3 584.2 362.8 595.0 363.0" fill="none" stroke="#111" stroke-width="3.4" stroke-linecap="round" stroke-linejoin="round" stroke-dasharray="13 8" stroke-linecap="butt"/>
<path d="M460.0 287.0 C460.2 301.2 460.7 340.2 461.0 372.0 C461.3 403.8 461.8 460.3 462.0 478.0" fill="none" stroke="#111" stroke-width="3.4" stroke-linecap="round" stroke-linejoin="round" stroke-dasharray="13 8" stroke-linecap="butt"/>
<path d="M585.0 286.0 C587.5 293.3 596.5 316.0 600.0 330.0 C603.5 344.0 604.5 344.3 606.0 370.0 C607.5 395.7 608.5 465.0 609.0 484.0" fill="none" stroke="#111" stroke-width="3.4" stroke-linecap="round" stroke-linejoin="round" stroke-dasharray="13 8" stroke-linecap="butt"/>
<path d="M607.0 301.0 C607.3 304.7 606.8 307.8 609.0 323.0 C611.2 338.2 616.3 366.2 620.0 392.0 C623.7 417.8 629.2 463.7 631.0 478.0" fill="none" stroke="#111" stroke-width="3.4" stroke-linecap="round" stroke-linejoin="round" stroke-dasharray="13 8" stroke-linecap="butt"/>
<path d="M464.0 484.0 C475.0 484.0 507.3 484.0 530.0 484.0 C552.7 484.0 588.3 484.0 600.0 484.0" fill="none" stroke="#111" stroke-width="3.4" stroke-linecap="round" stroke-linejoin="round" stroke-dasharray="13 8" stroke-linecap="butt"/>
<path d="M464.0 507.0 C475.0 507.2 508.2 507.7 530.0 508.0 C551.8 508.3 584.2 508.8 595.0 509.0" fill="none" stroke="#111" stroke-width="3.4" stroke-linecap="round" stroke-linejoin="round" stroke-dasharray="13 8" stroke-linecap="butt"/>
<path d="M453.0 512.0 C453.5 527.7 455.5 590.3 456.0 606.0" fill="none" stroke="#111" stroke-width="3.4" stroke-linecap="round" stroke-linejoin="round" stroke-dasharray="13 8" stroke-linecap="butt"/>
<path d="M678.0 431.0 C682.7 426.8 698.2 413.7 706.0 406.0 C713.8 398.3 721.8 388.5 725.0 385.0" fill="none" stroke="#111" stroke-width="3.4" stroke-linecap="round" stroke-linejoin="round" stroke-dasharray="13 8" stroke-linecap="butt"/>
<path d="M157.0 785.0 C159.2 775.7 165.5 747.0 170.0 729.0 C174.5 711.0 178.3 696.2 184.0 677.0 C189.7 657.8 194.8 629.2 204.0 614.0 C213.2 598.8 228.5 591.8 239.0 586.0 C249.5 580.2 255.7 581.3 267.0 579.0 C278.3 576.7 294.2 573.2 307.0 572.0 C319.8 570.8 335.3 571.2 344.0 572.0 C352.7 572.8 347.8 573.7 359.0 577.0 C370.2 580.3 396.2 585.3 411.0 592.0 C425.8 598.7 441.8 612.8 448.0 617.0" fill="none" stroke="#111" stroke-width="3.4" stroke-linecap="round" stroke-linejoin="round" stroke-dasharray="13 8" stroke-linecap="butt"/>
<path d="M454.0 637.0 C464.2 637.2 504.8 637.8 515.0 638.0" fill="none" stroke="#111" stroke-width="3.4" stroke-linecap="round" stroke-linejoin="round" stroke-dasharray="13 8" stroke-linecap="butt"/>
<path d="M533.0 795.0 C539.2 793.3 558.2 788.2 570.0 785.0 C581.8 781.8 598.3 777.5 604.0 776.0" fill="none" stroke="#111" stroke-width="3.4" stroke-linecap="round" stroke-linejoin="round" stroke-dasharray="13 8" stroke-linecap="butt"/>
<path d="M456.0 641.0 C456.0 657.7 456.0 724.3 456.0 741.0" fill="none" stroke="#111" stroke-width="3.4" stroke-linecap="round" stroke-linejoin="round" stroke-dasharray="13 8" stroke-linecap="butt"/>
<path d="M615.0 637.0 C615.3 655.0 616.7 727.0 617.0 745.0" fill="none" stroke="#111" stroke-width="3.4" stroke-linecap="round" stroke-linejoin="round" stroke-dasharray="13 8" stroke-linecap="butt"/>
<path d="M456.0 745.0 C468.3 745.0 503.5 745.0 530.0 745.0 C556.5 745.0 600.8 745.0 615.0 745.0" fill="none" stroke="#111" stroke-width="3.4" stroke-linecap="round" stroke-linejoin="round" stroke-dasharray="13 8" stroke-linecap="butt"/>
<path d="M476.0 767.0 C488.3 766.7 525.3 765.7 550.0 765.0 C574.7 764.3 611.7 763.3 624.0 763.0" fill="none" stroke="#111" stroke-width="3.4" stroke-linecap="round" stroke-linejoin="round" stroke-dasharray="13 8" stroke-linecap="butt"/>
<path d="M624.0 763.0 C624.0 773.2 624.0 813.8 624.0 824.0" fill="none" stroke="#111" stroke-width="3.4" stroke-linecap="round" stroke-linejoin="round" stroke-dasharray="13 8" stroke-linecap="butt"/>
<path d="M859.0 667.0 C849.2 672.5 816.5 687.8 800.0 700.0 C783.5 712.2 770.5 729.5 760.0 740.0 C749.5 750.5 743.0 749.8 737.0 763.0 C731.0 776.2 726.2 809.7 724.0 819.0" fill="none" stroke="#111" stroke-width="3.4" stroke-linecap="round" stroke-linejoin="round" stroke-dasharray="13 8" stroke-linecap="butt"/>
<path d="M900.0 280.0 C902.5 288.3 910.8 313.3 915.0 330.0 C919.2 346.7 921.8 362.2 925.0 380.0 C928.2 397.8 932.5 427.5 934.0 437.0" fill="none" stroke="#111" stroke-width="3.4" stroke-linecap="round" stroke-linejoin="round" stroke-dasharray="13 8" stroke-linecap="butt"/>
<path d="M932.0 376.0 C932.7 386.7 936.7 416.8 936.0 440.0 C935.3 463.2 930.7 495.2 928.0 515.0 C925.3 534.8 926.0 539.0 920.0 559.0 C914.0 579.0 900.0 611.7 892.0 635.0 C884.0 658.3 875.3 688.3 872.0 699.0" fill="none" stroke="#111" stroke-width="3.4" stroke-linecap="round" stroke-linejoin="round" stroke-dasharray="13 8" stroke-linecap="butt"/>
<path d="M971.0 587.0 C967.5 592.5 957.8 608.7 950.0 620.0 C942.2 631.3 928.3 649.2 924.0 655.0" fill="none" stroke="#111" stroke-width="3.4" stroke-linecap="round" stroke-linejoin="round" stroke-dasharray="13 8" stroke-linecap="butt"/>
<path d="M844.0 671.0 C850.0 671.0 874.0 671.0 880.0 671.0" fill="none" stroke="#111" stroke-width="3.4" stroke-linecap="round" stroke-linejoin="round" stroke-dasharray="13 8" stroke-linecap="butt"/>
<path d="M640.0 195.0 C643.3 205.8 655.0 239.2 660.0 260.0 C665.0 280.8 668.3 310.0 670.0 320.0" fill="none" stroke="#111" stroke-width="2.6" stroke-linecap="round" stroke-linejoin="round" stroke-dasharray="8 6" stroke-linecap="butt"/>
<path d="M1126.0 135.5 L856.0 135.0 L650.0 260.0" fill="none" stroke="#111" stroke-width="2.6" stroke-linecap="round" stroke-linejoin="round" />
<path d="M1126.0 209.6 L821.0 210.0" fill="none" stroke="#111" stroke-width="2.6" stroke-linecap="round" stroke-linejoin="round" />
<path d="M1126.0 513.5 L839.0 514.0" fill="none" stroke="#111" stroke-width="2.6" stroke-linecap="round" stroke-linejoin="round" />
<path d="M1126.0 772.2 L898.0 773.0" fill="none" stroke="#111" stroke-width="2.6" stroke-linecap="round" stroke-linejoin="round" />
<path d="M21.0 478.0 L418.0 478.0" fill="none" stroke="#111" stroke-width="2.6" stroke-linecap="round" stroke-linejoin="round" />
<path d="M63.0 551.8 L530.0 552.0" fill="none" stroke="#111" stroke-width="2.6" stroke-linecap="round" stroke-linejoin="round" />
<path d="M21.0 811.8 L186.0 811.6" fill="none" stroke="#111" stroke-width="2.6" stroke-linecap="round" stroke-linejoin="round" />
<path d="M21.0 870.4 L308.0 870.0" fill="none" stroke="#111" stroke-width="2.6" stroke-linecap="round" stroke-linejoin="round" />
<path d="M532.4 697.0 L532.4 1172.0" fill="none" stroke="#111" stroke-width="2.6" stroke-linecap="round" stroke-linejoin="round" />
<text x="1130" y="138" font-size="32.5">4</text>
<text x="1130" y="211.5" font-size="32.5">5</text>
<text x="1130" y="516" font-size="32.5">6</text>
<text x="1128" y="773.5" font-size="32.5">7</text>
<text x="1" y="480" font-size="32.5">3</text>
<text x="2" y="553.5" font-size="32.5">T12</text>
<text x="0" y="814.5" font-size="32.5">2</text>
<text x="0" y="872" font-size="32.5">1</text>
<text x="523" y="1203.5" font-size="32.5">8</text>
<path d="M292.4 757.3 A7.3 7.3 0 1 1 297.7 769.3 M336.7 758.1 A6.3 6.3 0 1 1 337.2 746.1 M371.1 711.8 A6.2 6.2 0 1 1 371.0 724.2 M402.9 718.0 A7.7 7.7 0 1 1 395.4 704.7 M421.5 740.5 A7.7 7.7 0 1 1 415.8 754.4 M395.0 774.2 A6.9 6.9 0 1 1 396.7 763.0 M406.4 776.9 A8.3 8.3 0 1 1 408.1 790.3 M444.0 796.1 A6.2 6.2 0 1 1 449.0 785.3 M473.6 781.2 A6.6 6.6 0 1 1 479.1 792.5 M265.3 801.6 A9.3 9.3 0 1 1 271.7 817.3 M318.5 802.3 A8.6 8.6 0 1 1 316.1 786.7 M333.7 807.5 A6.3 6.3 0 1 1 339.8 818.0 M371.2 830.1 A8.7 8.7 0 1 1 369.7 813.5 M391.3 798.1 A8.3 8.3 0 1 1 392.2 814.1 M271.9 842.8 A9.2 9.2 0 1 1 267.7 860.1 M318.2 863.1 A8.3 8.3 0 1 1 318.7 849.1 M333.2 862.3 A8.9 8.9 0 1 1 336.8 876.3 M281.3 884.7 A6.5 6.5 0 1 1 282.4 895.9 M317.1 898.5 A6.6 6.6 0 1 1 316.9 885.5 M337.1 893.4 A8.7 8.7 0 1 1 332.2 908.4 M368.1 900.3 A9.5 9.5 0 1 1 364.4 883.8 M319.8 926.9 A8.4 8.4 0 1 1 318.3 942.5 M348.4 935.2 A9.4 9.4 0 1 1 357.3 920.2 M377.7 967.4 A8.7 8.7 0 1 1 385.4 980.6 M394.6 998.6 A8.6 8.6 0 1 1 402.8 986.4 M304.0 835.9 A7.1 7.1 0 1 1 302.3 823.2 M350.4 754.1 A6.1 6.1 0 1 1 351.0 766.0 M385.6 853.3 A6.5 6.5 0 1 1 379.9 843.5 M296.2 914.7 A6.5 6.5 0 1 1 299.9 926.5 M404.8 948.8 A9.5 9.5 0 1 1 413.4 964.4" fill="none" stroke="#111" stroke-width="1.5" stroke-linecap="round"/>
<path d="M800.0 248.0 Q808.0 270.0 816.0 300.0 M812.0 249.5 Q820.0 270.0 828.0 298.5 M824.0 251.0 Q832.0 270.0 840.0 297.0 M836.0 252.5 Q844.0 270.0 852.0 295.5 M848.0 254.0 Q856.0 270.0 864.0 294.0 M860.0 255.5 Q868.0 270.0 876.0 292.5 M872.0 257.0 Q880.0 270.0 888.0 291.0 M884.0 258.5 Q892.0 270.0 900.0 289.5 M896.0 260.0 Q904.0 270.0 912.0 288.0 M760.0 370.0 Q764.0 390.0 762.0 412.0 M777.0 370.0 Q781.0 390.0 779.0 412.0 M794.0 370.0 Q798.0 390.0 796.0 412.0 M811.0 370.0 Q815.0 390.0 813.0 412.0 M828.0 370.0 Q832.0 390.0 830.0 412.0 M845.0 370.0 Q849.0 390.0 847.0 412.0 M862.0 370.0 Q866.0 390.0 864.0 412.0 M879.0 370.0 Q883.0 390.0 881.0 412.0 M896.0 370.0 Q900.0 390.0 898.0 412.0 M832.0 495.0 Q835.0 512.0 833.0 530.0 M844.0 495.0 Q847.0 512.0 845.0 530.0 M856.0 495.0 Q859.0 512.0 857.0 530.0 M868.0 495.0 Q871.0 512.0 869.0 530.0 M880.0 495.0 Q883.0 512.0 881.0 530.0 M892.0 495.0 Q895.0 512.0 893.0 530.0 M904.0 495.0 Q907.0 512.0 905.0 530.0 M916.0 495.0 Q919.0 512.0 917.0 530.0 M845.0 585.0 Q848.0 598.0 846.0 612.0 M856.0 585.0 Q859.0 598.0 857.0 612.0 M867.0 585.0 Q870.0 598.0 868.0 612.0 M878.0 585.0 Q881.0 598.0 879.0 612.0 M889.0 585.0 Q892.0 598.0 890.0 612.0 M900.0 585.0 Q903.0 598.0 901.0 612.0 M400.0 671.8 Q422.0 681.8 448.0 701.8 M407.0 668.1 Q429.0 678.1 455.0 698.1 M414.0 664.3 Q436.0 674.3 462.0 694.3 M421.0 660.5 Q443.0 670.5 469.0 690.5 M428.0 656.7 Q450.0 666.7 476.0 686.7 M435.0 652.9 Q457.0 662.9 483.0 682.9 M442.0 649.2 Q464.0 659.2 490.0 679.2 M449.0 645.4 Q471.0 655.4 497.0 675.4 M456.0 641.6 Q478.0 651.6 504.0 671.6 M770.0 730.0 Q800.0 722.0 835.0 700.0 M776.0 738.0 Q805.0 729.0 838.0 708.0 M782.0 746.0 Q810.0 736.0 841.0 716.0 M788.0 754.0 Q815.0 743.0 844.0 724.0 M794.0 762.0 Q820.0 750.0 847.0 732.0 M800.0 770.0 Q825.0 757.0 850.0 740.0 M806.0 778.0 Q830.0 764.0 853.0 748.0 M812.0 786.0 Q835.0 771.0 856.0 756.0 M790.0 790.0 Q800.0 760.0 815.0 735.0 M800.0 785.0 Q810.0 755.0 825.0 730.0 M810.0 780.0 Q820.0 750.0 835.0 725.0 M820.0 775.0 Q830.0 745.0 845.0 720.0 M830.0 770.0 Q840.0 740.0 855.0 715.0 M840.0 765.0 Q850.0 735.0 865.0 710.0 M507.0 722.0 Q540.0 730.0 569.0 750.0 M515.0 741.0 Q535.0 748.0 552.0 762.0 M500.0 753.0 Q515.0 758.0 531.0 769.0 M520.0 728.0 Q548.0 738.0 572.0 758.0" fill="none" stroke="#111" stroke-width="1.1" stroke-linecap="round"/>
<path d="M870.0 852.0 C866.7 860.0 856.7 883.7 850.0 900.0 C843.3 916.3 835.8 933.3 830.0 950.0 C824.2 966.7 817.5 991.7 815.0 1000.0" fill="none" stroke="#111" stroke-width="1.6" stroke-linecap="round" stroke-linejoin="round" />
<path d="M888.0 850.0 C884.7 859.2 874.3 886.7 868.0 905.0 C861.7 923.3 854.7 943.3 850.0 960.0 C845.3 976.7 841.7 997.5 840.0 1005.0" fill="none" stroke="#111" stroke-width="1.6" stroke-linecap="round" stroke-linejoin="round" />
<path d="M866.0 955.0 C868.0 956.2 874.0 962.0 878.0 962.0 C882.0 962.0 888.0 956.2 890.0 955.0" fill="none" stroke="#111" stroke-width="1.6" stroke-linecap="round" stroke-linejoin="round" />
<path d="M862.0 878.0 C863.7 879.2 868.3 884.7 872.0 885.0 C875.7 885.3 882.0 880.8 884.0 880.0" fill="none" stroke="#111" stroke-width="1.6" stroke-linecap="round" stroke-linejoin="round" />
<path d="M664.0 246.0 C665.3 250.0 669.0 261.8 672.0 270.0 C675.0 278.2 680.3 290.8 682.0 295.0" fill="none" stroke="#111" stroke-width="3.0" stroke-linecap="round" stroke-linejoin="round" />
<path d="M702.0 262.0 C700.8 265.0 695.8 272.8 695.0 280.0 C694.2 287.2 696.7 300.8 697.0 305.0" fill="none" stroke="#111" stroke-width="3.0" stroke-linecap="round" stroke-linejoin="round" />
<path d="M296.0 712.0 C296.7 709.2 296.8 700.3 300.0 695.0 C303.2 689.7 309.2 683.3 315.0 680.0 C320.8 676.7 330.0 673.3 335.0 675.0 C340.0 676.7 343.3 687.5 345.0 690.0" fill="none" stroke="#111" stroke-width="2.6" stroke-linecap="round" stroke-linejoin="round" stroke-dasharray="8 6" stroke-linecap="butt"/>
<path d="M775.0 692.0 C777.5 688.3 785.2 676.7 790.0 670.0 C794.8 663.3 801.7 655.0 804.0 652.0" fill="none" stroke="#111" stroke-width="1.2" stroke-linecap="round" stroke-linejoin="round" />
<path d="M780.0 668.0 C781.3 665.0 785.5 655.2 788.0 650.0 C790.5 644.8 793.8 639.2 795.0 637.0" fill="none" stroke="#111" stroke-width="1.2" stroke-linecap="round" stroke-linejoin="round" />
<path d="M792.0 722.0 C794.3 717.7 802.2 705.0 806.0 696.0 C809.8 687.0 813.5 672.7 815.0 668.0" fill="none" stroke="#111" stroke-width="1.2" stroke-linecap="round" stroke-linejoin="round" />
<path d="M808.0 760.0 C810.3 755.8 818.0 744.2 822.0 735.0 C826.0 725.8 830.3 710.0 832.0 705.0" fill="none" stroke="#111" stroke-width="1.2" stroke-linecap="round" stroke-linejoin="round" />
<path d="M800.0 778.0 C803.0 773.7 812.7 760.8 818.0 752.0 C823.3 743.2 829.7 729.5 832.0 725.0" fill="none" stroke="#111" stroke-width="1.2" stroke-linecap="round" stroke-linejoin="round" />
</svg></body></html>
